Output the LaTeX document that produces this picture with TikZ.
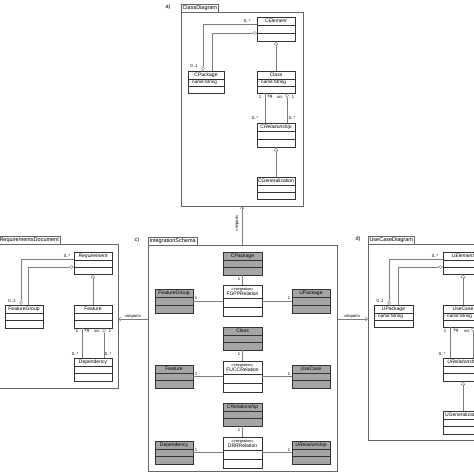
\documentclass[tikz,border=0pt]{standalone}
\usepackage{fontspec}
\setmainfont{Liberation Sans}
\usetikzlibrary{arrows.meta,calc}
\definecolor{boxgray}{RGB}{165,165,165}
\definecolor{linegray}{RGB}{125,125,125}
\tikzset{
 classbox/.style={draw=black!80,line width=0.4pt,fill=white,inner sep=0pt,outer sep=0pt},
 grayc/.style={fill=boxgray},
 whitec/.style={},
 classline/.style={draw=black!80,line width=0.4pt},
 ctitle/.style={inner sep=0pt,font=\fontsize{5}{5.4}\selectfont,align=center},
 cattr/.style={inner sep=0pt,anchor=west,font=\fontsize{4.6}{5}\selectfont},
 pkg/.style={draw=black!60,line width=0.7pt,inner sep=0pt,outer sep=0pt},
 pkgtab/.style={pkg,anchor=south west,inner xsep=1.5pt,minimum height=8pt,font=\fontsize{5.5}{6}\selectfont},
 conn/.style={draw=linegray,line width=0.45pt},
 agg/.style={conn,{Diamond[open,length=5pt,width=3.5pt]}-},
 aggend/.style={conn,-{Diamond[open,length=5pt,width=3.5pt]}},
 gen/.style={conn,-{Triangle[open,length=4pt,width=4.5pt]}},
 imp/.style={conn,-{Straight Barb[length=2.5pt,width=4pt]}},
 mult/.style={inner sep=0pt,font=\fontsize{4.2}{4.5}\selectfont},
 plabel/.style={inner sep=0pt,font=\fontsize{5.5}{6}\selectfont},
}
% #1 name #2 x #3 y #4 w #5 h #6 header height #7 style #8 title #9 attribute
\newcommand\umlbox[9]{%
  \node[classbox,#7,minimum width=#4pt,minimum height=#5pt,anchor=north west] (#1) at (#2,#3) {};
  \pgfmathsetmacro\umlsep{#6+(#5-#6)/2}
  \draw[classline] ($(#1.north west)+(0,#6)$) -- ($(#1.north east)+(0,#6)$);
  \draw[classline] ($(#1.north west)+(0,\umlsep)$) -- ($(#1.north east)+(0,\umlsep)$);
  \node[ctitle] (#1-t) at ($(#1.north)+(0,#6/2)$) {#8};
  \node[cattr] (#1-a) at ($(#1.north west)+(1.2,#6+3.6)$) {#9};
}
\newcommand\stereo{{\fontsize{3.8}{4}\selectfont «Integration»}}
\begin{document}
\begin{tikzpicture}[x=1pt,y=-1pt]
\useasboundingbox (0,0) rectangle (474,474);
\clip (0,0) rectangle (474,474);
\fill[white] (0,0) rectangle (474,474);

% ---------------- a) ClassDiagram
\node[pkg,minimum width=122pt,minimum height=194pt,anchor=north west] (pa) at (181,12) {};
\node[pkgtab] (pa-tab) at (pa.north west) {ClassDiagram};
\node[plabel] (pa-l) at (168,7) {a)};
\umlbox{celem}{257}{17}{38}{24}{8}{whitec}{\textit{CElement}}{}
\umlbox{cpkg}{188}{71}{36}{22}{8}{whitec}{CPackage}{- name:String}
\umlbox{cls}{257}{71}{38}{22}{8}{whitec}{Class}{- name:String}
\umlbox{crel}{257}{123}{38}{24}{8}{whitec}{\textit{CRelationship}}{}
\umlbox{cgen}{257}{177}{38}{22}{8}{whitec}{CGeneralization}{}
\draw[agg] ([xshift=15pt]cpkg.north west) |- ([yshift=-7pt]celem.north west);
\draw[aggend] ([xshift=24pt]cpkg.north west) |- ([yshift=-16pt]celem.north west);
\draw[gen] (cls.north) -- (celem.south);
\draw[conn] ([xshift=8pt]cls.south west) -- ([xshift=8pt]crel.north west);
\draw[agg] ([xshift=30pt]cls.south west) -- ([xshift=30pt]crel.north west);
\draw[gen] (cgen.north) -- (crel.south);
\node[mult] (a1) at (247,21) {0..*};
\node[mult] (a2) at (194,66) {0..1};
\node[mult] (a3) at (260,97) {1};
\node[mult] (a4) at (270,97) {trg};
\node[mult] (a5) at (280,97) {src};
\node[mult] (a6) at (293,97) {1};
\node[mult] (a7) at (255,118) {0..*};
\node[mult] (a8) at (292,118) {0..*};

% ---------------- c) IntegrationSchema
\node[pkg,minimum width=189pt,minimum height=226pt,anchor=north west] (pc) at (148,245) {};
\node[pkgtab] (pc-tab) at (pc.north west) {IntegrationSchema};
\node[plabel] (pc-l) at (137,240) {c)};
\umlbox{icpkg}{223}{252}{39}{23}{8}{grayc}{CPackage}{}
\umlbox{fgpp}{223}{285}{39}{31}{13}{whitec}{\stereo\\FGPPRelation}{}
\umlbox{ifg}{155}{289}{38}{24}{8}{grayc}{FeatureGroup}{}
\umlbox{iupk}{292}{289}{38}{24}{8}{grayc}{UPackage}{}
\draw[conn] (icpkg.south) -- (fgpp.north);
\draw[conn] (ifg.east) -- (ifg.east -| fgpp.west);
\draw[conn] (fgpp.east |- iupk.west) -- (iupk.west);
\node[mult] (c1) at (239,279) {1};
\node[mult] (c2) at (196,298) {1};
\node[mult] (c3) at (289,298) {1};

\umlbox{icls}{223}{327}{39}{23}{8}{grayc}{Class}{}
\umlbox{fucc}{223}{361}{39}{31}{13}{whitec}{\stereo\\FUCCRelation}{}
\umlbox{ifeat}{155}{365}{38}{23}{8}{grayc}{Feature}{}
\umlbox{iuc}{292}{365}{38}{23}{8}{grayc}{UseCase}{}
\draw[conn] (icls.south) -- (fucc.north);
\draw[conn] (ifeat.east) -- (ifeat.east -| fucc.west);
\draw[conn] (fucc.east |- iuc.west) -- (iuc.west);
\node[mult] (c4) at (239,354) {1};
\node[mult] (c5) at (196,374) {1};
\node[mult] (c6) at (289,374) {1};

\umlbox{icrel}{223}{403}{39}{23}{8}{grayc}{\textit{CRelationship}}{}
\umlbox{drr}{223}{437}{39}{31}{13}{whitec}{\stereo\\DRRRelation}{}
\umlbox{idep}{155}{441}{38}{23}{8}{grayc}{Dependency}{}
\umlbox{iurel}{292}{441}{38}{23}{8}{grayc}{\textit{URelationship}}{}
\draw[conn] (icrel.south) -- (drr.north);
\draw[conn] (idep.east) -- (idep.east -| drr.west);
\draw[conn] (drr.east |- iurel.west) -- (iurel.west);
\node[mult] (c7) at (239,430) {1};
\node[mult] (c8) at (196,450) {1};
\node[mult] (c9) at (289,450) {1};

% ---------------- b) RequirementsDocument
\node[pkg,minimum width=120pt,minimum height=144pt,anchor=north west] (pb) at (-2,244) {};
\node[pkgtab] (pb-tab) at (pb.north west) {RequirementsDocument};
\umlbox{req}{74}{252}{38}{22}{8}{whitec}{\textit{Requirement}}{}
\umlbox{bfg}{5}{305}{38}{23}{8}{whitec}{FeatureGroup}{}
\umlbox{bfeat}{74}{305}{38}{23}{8}{whitec}{Feature}{}
\umlbox{bdep}{74}{358}{38}{23}{8}{whitec}{Dependency}{}
\draw[agg] ([xshift=16pt]bfg.north west) |- ([yshift=-7pt]req.north west);
\draw[aggend] ([xshift=23pt]bfg.north west) |- ([yshift=-15pt]req.north west);
\draw[gen] (bfeat.north) -- (req.south);
\draw[conn] ([xshift=8pt]bfeat.south west) -- ([xshift=8pt]bdep.north west);
\draw[agg] ([xshift=30pt]bfeat.south west) -- ([xshift=30pt]bdep.north west);
\node[mult] (b1) at (67,256) {0..*};
\node[mult] (b2) at (12,301) {0..1};
\node[mult] (b3) at (77,331) {1};
\node[mult] (b4) at (87,331) {trg};
\node[mult] (b5) at (97,331) {src};
\node[mult] (b6) at (110,331) {1};
\node[mult] (b7) at (75,354) {0..*};
\node[mult] (b8) at (108,354) {0..*};

% ---------------- d) UseCaseDiagram
\node[pkg,minimum width=122pt,minimum height=196pt,anchor=north west] (pd) at (368,244) {};
\node[pkgtab] (pd-tab) at (pd.north west) {UseCaseDiagram};
\node[plabel] (pd-l) at (358,239) {d)};
\umlbox{uel}{443}{252}{40}{22}{8}{whitec}{\textit{UElement}}{}
\umlbox{upk}{374}{305}{39}{22}{8}{whitec}{UPackage}{- name:String}
\umlbox{ucase}{443}{305}{40}{22}{8}{whitec}{UseCase}{- name:String}
\umlbox{urel}{443}{358}{40}{23}{8}{whitec}{\textit{URelationship}}{}
\umlbox{ugen}{443}{411}{40}{23}{8}{whitec}{UGeneralization}{}
\draw[agg] ([xshift=15pt]upk.north west) |- ([yshift=-7pt]uel.north west);
\draw[aggend] ([xshift=24pt]upk.north west) |- ([yshift=-15pt]uel.north west);
\draw[gen] (ucase.north) -- (uel.south);
\draw[conn] ([xshift=7pt]ucase.south west) -- ([xshift=7pt]urel.north west);
\draw[agg] ([xshift=30pt]ucase.south west) -- ([xshift=30pt]urel.north west);
\draw[gen] (ugen.north) -- (urel.south);
\node[mult] (d1) at (435,256) {0..*};
\node[mult] (d2) at (380,301) {0..1};
\node[mult] (d3) at (445,331) {1};
\node[mult] (d4) at (456,331) {trg};
\node[mult] (d5) at (467,331) {src};
\node[mult] (d6) at (442,354) {0..*};

% ---------------- imports
\draw[imp] (pa.south |- pc.north) -- (pa.south);
\node[mult,rotate=90] (ia) at (237,223) {«import»};
\draw[imp] ($(pc.west |- pb.east)+(0,3)$) -- ($(pb.east)+(0,3)$);
\node[mult] (ib) at (133,316) {«import»};
\draw[imp] ($(pc.east |- pd.west)+(0,-23)$) -- ($(pd.west)+(0,-23)$);
\node[mult] (id) at (352,316) {«import»};
\end{tikzpicture}
\end{document}
